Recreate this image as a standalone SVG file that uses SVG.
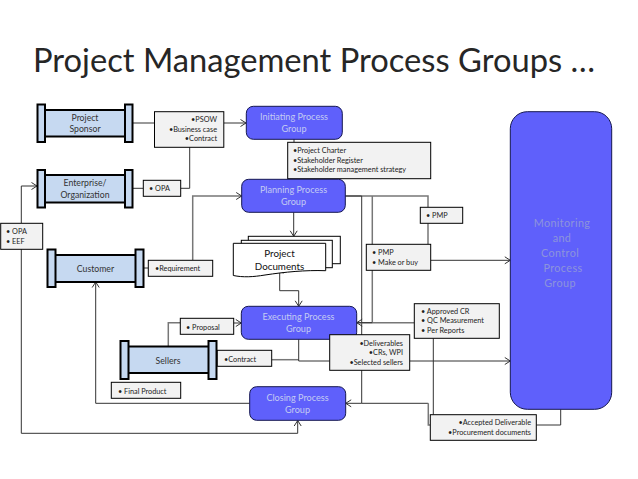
<svg xmlns="http://www.w3.org/2000/svg" width="638" height="479" viewBox="0 0 638 479">
<style>
text{font-family:"Lato","Open Sans","Liberation Sans",sans-serif}
.title{font-size:32.7px;fill:#262626}
.bar{fill:#c6d9f1;stroke:#000;stroke-width:2}
.lbl{font-size:8.7px;fill:#333;text-anchor:middle}
.doc{font-size:9.8px;fill:#111;text-anchor:middle}
.box{fill:#f2f2f2;stroke:#000;stroke-width:1}
.bt{font-size:7.3px;fill:#222}
.e{text-anchor:end}
.proc{fill:#5f60fb;stroke:#15174f;stroke-width:1}
.pt{font-size:9.1px;fill:#c3cbf3;text-anchor:middle}
.mt{font-size:10.8px;fill:#8d94dc;text-anchor:middle;letter-spacing:.4px}
.c{fill:none;stroke:#333;stroke-width:1}
.g{fill:none;stroke:#777;stroke-width:1.5}
.page{fill:#fff;stroke:#000;stroke-width:1}
</style>
<defs>
<marker id="a" markerUnits="userSpaceOnUse" markerWidth="10" markerHeight="10" refX="7" refY="5" orient="auto-start-reverse"><path d="M1.5 1.5L7 5L1.5 8.5" fill="none" stroke="#333" stroke-width="1"/></marker>
</defs>
<rect width="638" height="479" fill="#fff"/>
<text class="title" x="33" y="72">Project Management Process Groups …</text>

<g id="connectors">
<path class="g" d="M133 123H155"/>
<path class="c" d="M224 123H246" stroke-width="1.4" marker-end="url(#a)"/>
<path class="c" d="M189.7 147V188.3H180.7"/>
<path class="c" d="M133 188.3H143.3"/>
<path class="c" d="M21.3 223V186H37" marker-end="url(#a)"/>
<path class="c" d="M21.3 249V433.3H297.7V420.5" marker-end="url(#a)"/>
<path class="c" d="M144 268H148.3"/>
<path class="g" d="M192.7 260V196H241.7" stroke-width="1" marker-end="url(#a)"/>
<path class="c" d="M294 139V142.3"/>
<path class="c" d="M293.7 212.3V236.3" marker-end="url(#a)"/>
<path class="c" d="M279.7 268V290.7H298.7V306.3" marker-start="url(#a)" marker-end="url(#a)"/>
<path class="g" d="M168.3 346V322.7H180.3" stroke-width="1"/>
<path class="c" d="M233.7 323H241.3" marker-end="url(#a)"/>
<path class="g" d="M271.7 359.7H298.7" stroke-width="1"/>
<path class="c" d="M298.7 339.3V361H329.7"/>
<path class="c" d="M409.7 361H510.3" marker-end="url(#a)"/>
<path class="c" d="M249.7 403.3H95.7V282" marker-end="url(#a)"/>
<path class="g" d="M345.3 196H428V207.3M428 223.3V244.3"/>
<path class="c" d="M345.3 196H361.7V403.3" stroke-width="1.2"/>
<path class="g" d="M372.3 196V322.7"/>
<path class="g" d="M414.3 322.7H357"/>
<path class="c" d="M372.3 322.7H356.7" marker-end="url(#a)"/>
<path class="c" d="M430.7 260.3H510.3" marker-end="url(#a)"/>
<path class="c" d="M433.3 338.3V414.7"/>
<path class="c" d="M361.7 403.3H345.7" marker-end="url(#a)"/>
<path class="c" d="M361.7 403.3H428.3"/>
<path class="g" d="M428.3 403.3V425H430.3" stroke-width="1.2"/>
<path class="c" d="M560.7 409.3V425H536.3" stroke-width="1.2"/>
</g>

<g id="project-sponsor">
<rect class="bar" x="45" y="110" width="80" height="26.5"/><rect class="bar" x="37.500" y="104.500" width="7.500" height="37.500"/><rect class="bar" x="125" y="104.500" width="7.500" height="37.500"/>
<text class="lbl" x="85" y="121">Project</text><text class="lbl" x="85" y="132">Sponsor</text>
</g>
<g id="enterprise">
<rect class="bar" x="45" y="175" width="80" height="27.500"/><rect class="bar" x="37.500" y="170" width="7.500" height="37.500"/><rect class="bar" x="125" y="170" width="7.500" height="37.500"/>
<text class="lbl" x="85" y="186">Enterprise/</text><text class="lbl" x="85" y="198">Organization</text>
</g>
<g id="customer">
<rect class="bar" x="55" y="255" width="81" height="27"/><rect class="bar" x="47.500" y="249.500" width="8" height="37.500"/><rect class="bar" x="135.500" y="249.500" width="8" height="37.500"/>
<text class="lbl" x="95.500" y="272">Customer</text>
</g>
<g id="sellers">
<rect class="bar" x="128" y="346.500" width="81" height="26.500"/><rect class="bar" x="120.500" y="341" width="8" height="38"/><rect class="bar" x="208.500" y="341" width="8" height="38"/>
<text class="lbl" x="168" y="363.500">Sellers</text>
</g>

<g id="psow"><rect class="box" x="154.500" y="111.700" width="69.300" height="35.600"/>
<text class="bt e" x="217" y="122">•PSOW</text><text class="bt e" x="217" y="132">•Business case</text><text class="bt e" x="217" y="141">•Contract</text></g>
<g id="opa"><rect class="box" x="143.300" y="180.300" width="37.400" height="16"/><text class="bt" x="149" y="191">• OPA</text></g>
<g id="opa-eef"><rect class="box" x="0.700" y="223.300" width="42" height="26"/><text class="bt" x="6" y="234">• OPA</text><text class="bt" x="6" y="244">• EEF</text></g>
<g id="requirement"><rect class="box" x="148.300" y="260.300" width="64.400" height="16"/><text class="bt" x="155" y="271">•Requirement</text></g>

<g id="initiating"><rect class="proc" x="246.300" y="106.300" width="96" height="33" rx="7"/>
<text class="pt" x="294" y="120">Initiating Process</text><text class="pt" x="294" y="132">Group</text></g>
<g id="charter"><rect class="box" x="287.700" y="142.300" width="143" height="36.400"/>
<text class="bt" x="293" y="153">•Project Charter</text><text class="bt" x="293" y="163">•Stakeholder Register</text><text class="bt" x="293" y="172">•Stakeholder management strategy</text></g>
<g id="planning"><rect class="proc" x="241.700" y="179.300" width="103.600" height="33" rx="7"/>
<text class="pt" x="293.500" y="193">Planning Process</text><text class="pt" x="293.500" y="205">Group</text></g>
<g id="pmp"><rect class="box" x="420.300" y="207.300" width="42.400" height="16"/><text class="bt" x="426" y="218">• PMP</text></g>
<g id="pmp-make"><rect class="box" x="366.300" y="244.300" width="64.400" height="26"/><text class="bt" x="372" y="255">• PMP</text><text class="bt" x="372" y="265">• Make or buy</text></g>
<g id="documents">
<rect class="page" x="248.300" y="236.300" width="92" height="27.400"/>
<rect class="page" x="241.300" y="240.300" width="91" height="27.400"/>
<path class="page" d="M233.300 243.300H325.700V270.700C305 270 285 272 265 275C253 277 243 277.500 233.300 275.500Z"/>
<text class="doc" x="279.500" y="257">Project</text><text class="doc" x="279.500" y="270">Documents</text>
</g>
<g id="executing"><rect class="proc" x="241.300" y="306.300" width="115.400" height="33" rx="7"/>
<text class="pt" x="298.500" y="320">Executing Process</text><text class="pt" x="298.500" y="332">Group</text></g>
<g id="deliverables"><rect class="box" x="329.700" y="334.700" width="80" height="35.600"/>
<text class="bt e" x="403" y="346">•Deliverables</text><text class="bt e" x="403" y="355">•CRs, WPI</text><text class="bt e" x="403" y="365">•Selected sellers</text></g>
<g id="approved"><rect class="box" x="414.300" y="303.700" width="85" height="34.600"/>
<text class="bt" x="421" y="314">• Approved CR</text><text class="bt" x="421" y="323">• QC Measurement</text><text class="bt" x="421" y="333">• Per Reports</text></g>
<g id="closing"><rect class="proc" x="249.700" y="386.700" width="96" height="33.600" rx="7"/>
<text class="pt" x="297.500" y="401">Closing Process</text><text class="pt" x="297.500" y="413">Group</text></g>
<g id="accepted"><rect class="box" x="430.300" y="414.700" width="106" height="25.600"/>
<text class="bt e" x="531" y="425">•Accepted Deliverable</text><text class="bt e" x="531" y="435">•Procurement documents</text></g>
<g id="proposal"><rect class="box" x="180.300" y="318.300" width="53.400" height="16"/><text class="bt" x="186" y="330">• Proposal</text></g>
<g id="contract"><rect class="box" x="217.300" y="350.300" width="54.400" height="16"/><text class="bt" x="224" y="362">•Contract</text></g>
<g id="final-product"><rect class="box" x="111.300" y="382.300" width="69.400" height="16"/><text class="bt" x="118" y="394">• Final Product</text></g>
<g id="monitoring"><rect class="proc" x="510.300" y="111.700" width="101.400" height="297.600" rx="17"/>
<text class="mt" x="562" y="227">Monitoring</text><text class="mt" x="562" y="242">and</text><text class="mt" x="560" y="257">Control</text><text class="mt" x="563" y="272">Process</text><text class="mt" x="560" y="287">Group</text></g>
</svg>
